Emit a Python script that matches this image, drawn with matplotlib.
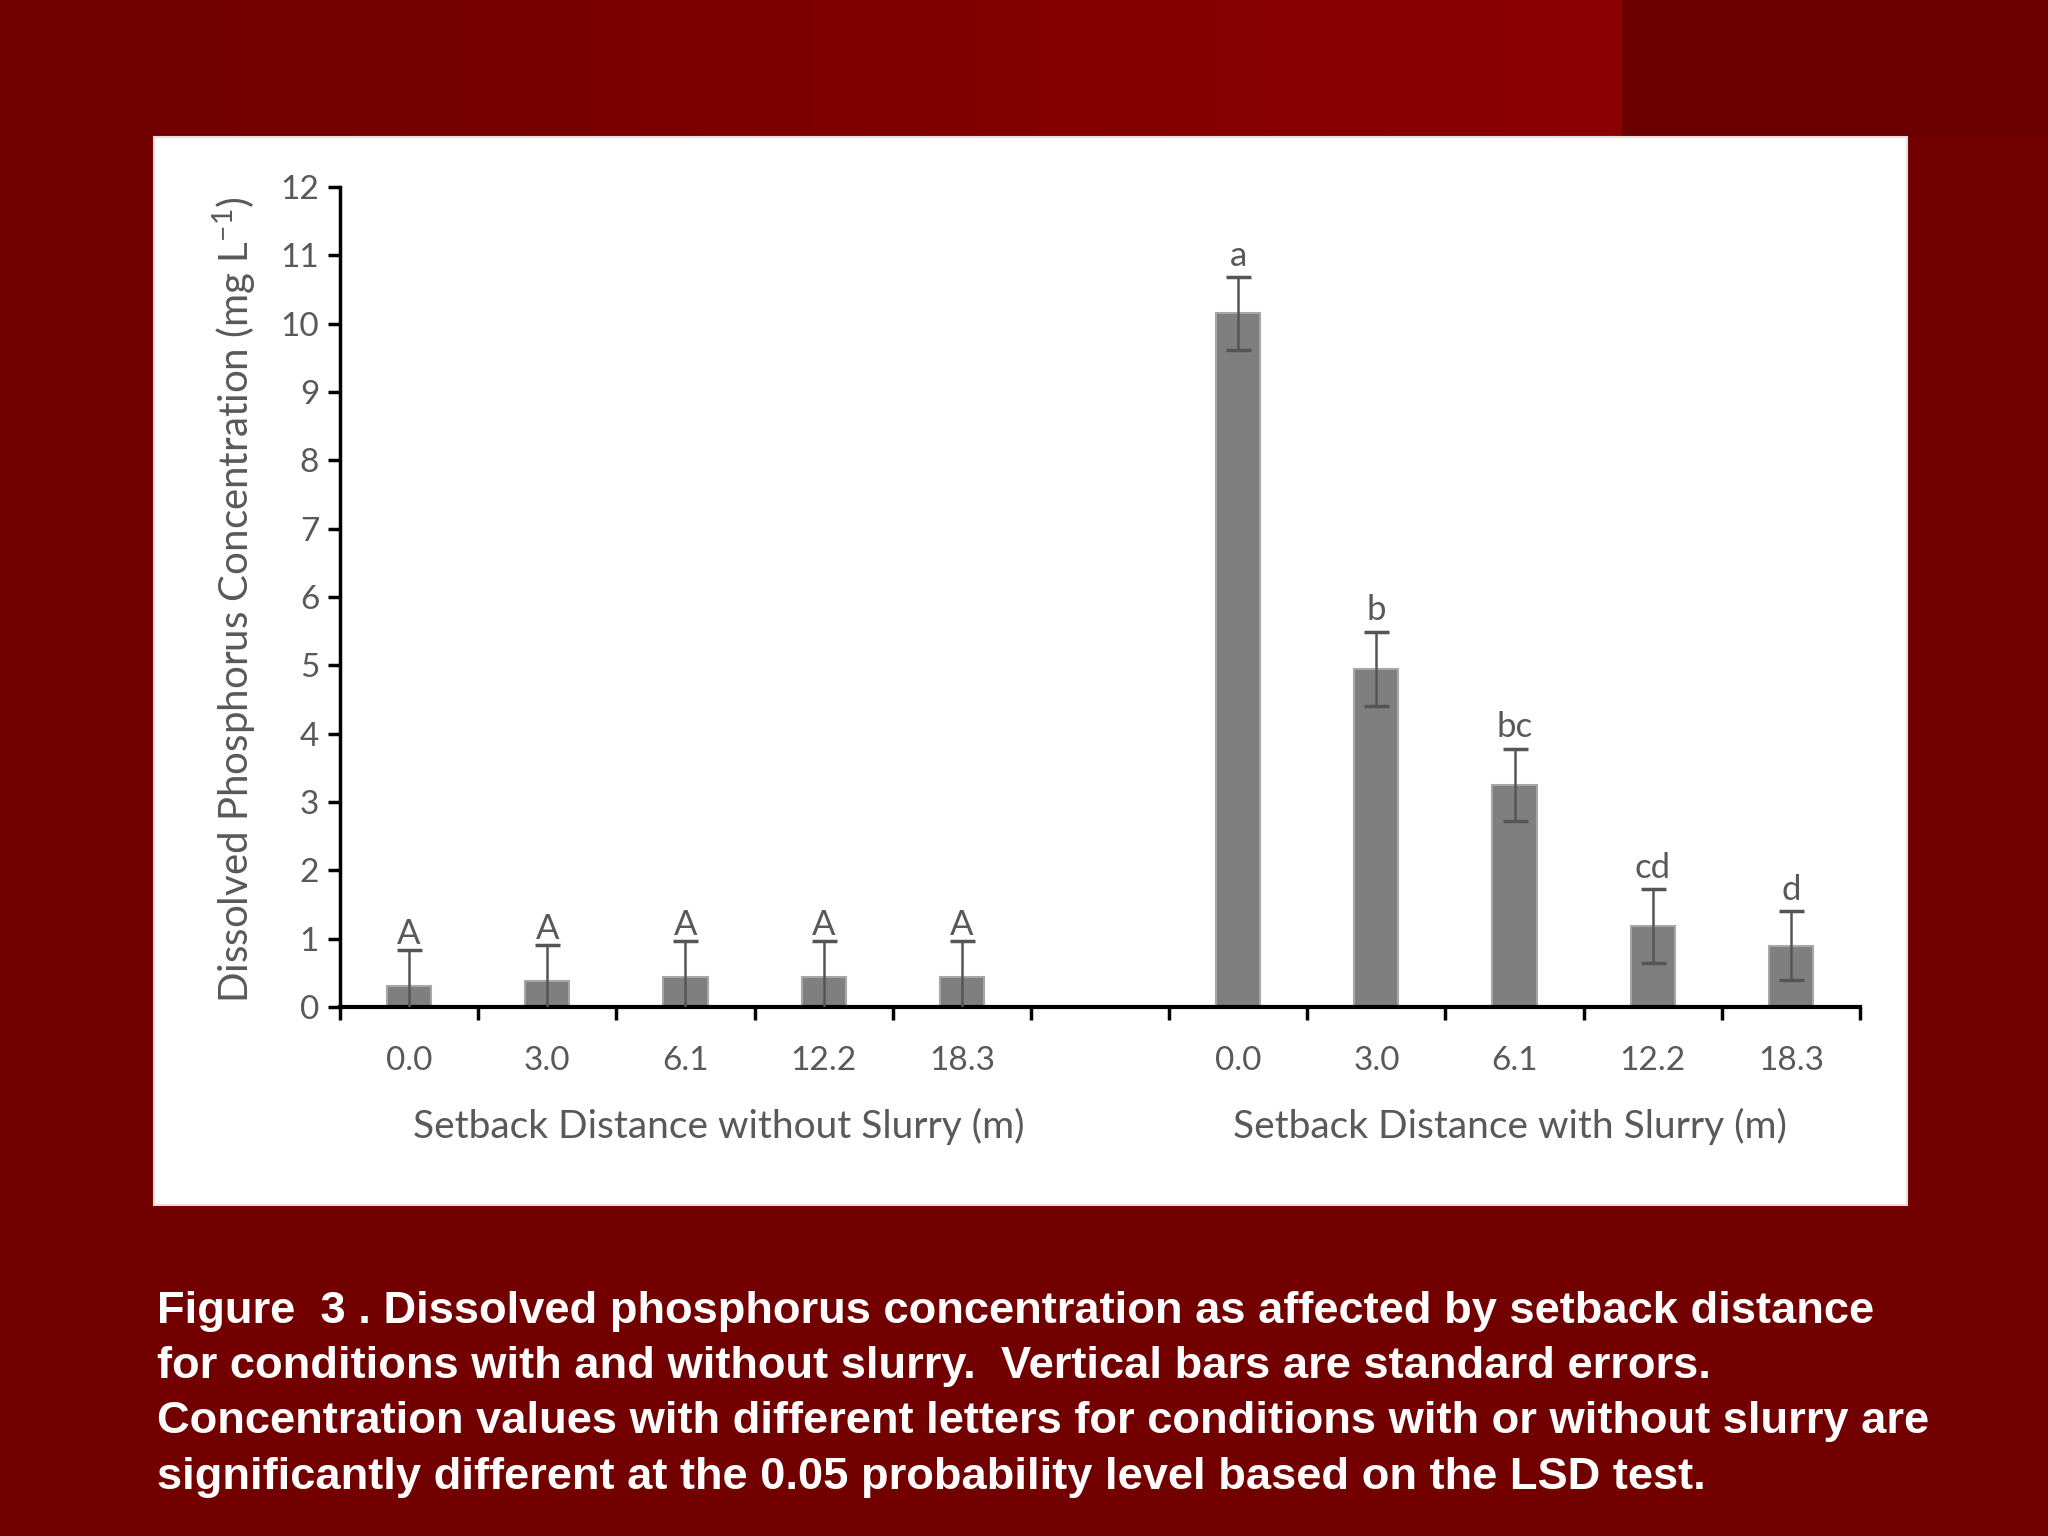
import numpy as np
import matplotlib
matplotlib.use("Agg")
from matplotlib import pyplot as plt
from matplotlib.patches import Rectangle
import matplotlib.transforms as mtransforms

# data
distances = ["0.0", "3.0", "6.1", "12.2", "18.3"]
no_slurry = [0.31, 0.38, 0.44, 0.44, 0.44]
no_slurry_err = [0.52, 0.53, 0.53, 0.53, 0.53]
no_slurry_letters = ["A", "A", "A", "A", "A"]
slurry = [10.15, 4.95, 3.25, 1.18, 0.90]
slurry_err = [0.53, 0.54, 0.53, 0.54, 0.50]
slurry_letters = ["a", "b", "bc", "cd", "d"]
group_labels = ["Setback Distance without Slurry (m)", "Setback Distance with Slurry (m)"]
y_label = "Dissolved Phosphorus Concentration (mg L$^{\\mathregular{-1}}$)"
caption = ["Figure  3 . Dissolved phosphorus concentration as affected by setback distance",
           "for conditions with and without slurry.  Vertical bars are standard errors.",
           "Concentration values with different letters for conditions with or without slurry are",
           "significantly different at the 0.05 probability level based on the LSD test."]

W, H = 2048, 1536
bg = "#730000"
grey = "#595959"
font = "Lato"

fig = plt.figure(figsize=(W / 100, H / 100), dpi=100, facecolor=bg)

# top gradient band of the slide
band = fig.add_axes([0, 1 - 137 / H, 1622 / W, 137 / H])
band.set_zorder(-2)
grad = np.linspace(0, 1, 256).reshape(1, -1)
cmap = matplotlib.colors.LinearSegmentedColormap.from_list("band", ["#700000", "#8c0000"])
band.imshow(grad, aspect="auto", cmap=cmap)
band.axis("off")
fig.patches.append(Rectangle((1622 / W, 1 - 137 / H), 1 - 1622 / W, 137 / H,
                             transform=fig.transFigure, facecolor="#6c0000", edgecolor="none", zorder=-2))

# white panel holding the chart
fig.patches.append(Rectangle((154 / W, 1 - 1205 / H), 1753 / W, 1068 / H,
                             transform=fig.transFigure, facecolor="white", edgecolor="#e8dcdc",
                             linewidth=1.5, zorder=-1))

ax = fig.add_axes([340 / W, 1 - 1007 / H, 1520 / W, 820 / H])
ax.set_zorder(2)
ax.set_facecolor("none")

n = len(distances)
pos_left = np.arange(n)
pos_right = np.arange(n) + n + 1

ax.bar(pos_left, no_slurry, width=0.32, color="#7f7f7f", edgecolor="#a6a6a6", linewidth=1.5, zorder=2)
ax.bar(pos_right, slurry, width=0.32, color="#7f7f7f", edgecolor="#a6a6a6", linewidth=1.5, zorder=2)
# symmetric errors; the part below zero is clipped by the axis like in the original
ax.errorbar(pos_left, no_slurry, yerr=no_slurry_err, fmt="none",
            ecolor="#555555", elinewidth=1.8, capsize=9, capthick=2.5, zorder=3)
ax.errorbar(pos_right, slurry, yerr=slurry_err, fmt="none",
            ecolor="#555555", elinewidth=1.8, capsize=9, capthick=2.5, zorder=3)

for x, v, e, t in zip(pos_left, no_slurry, no_slurry_err, no_slurry_letters):
    ax.text(x, v + e + 0.0, t, ha="center", va="bottom", fontsize=25, color=grey, family=font, zorder=4)
for x, v, e, t in zip(pos_right, slurry, slurry_err, slurry_letters):
    ax.text(x, v + e + 0.08, t, ha="center", va="bottom", fontsize=25, color=grey, family=font, zorder=4)

ax.set_xlim(-0.5, 2 * n + 0.5)
ax.set_ylim(0, 12)
ax.set_yticks(range(0, 13))
ax.set_yticklabels([str(i) for i in range(0, 13)], family=font, fontsize=24, color=grey)

# slot boundaries get the tick marks, bar centers get the labels
ax.set_xticks(np.arange(-0.5, 2 * n + 1, 1.0), minor=True)
ax.set_xticks(list(pos_left) + list(pos_right))
ax.set_xticklabels(distances + distances, family=font, fontsize=24, color=grey)
ax.tick_params(axis="x", which="major", length=0, pad=28)
ax.tick_params(axis="x", which="minor", length=9, width=2.5, direction="out", color="black")
ax.tick_params(axis="y", length=9, width=2.5, direction="out", color="black", pad=6)

for s in ["top", "right"]:
    ax.spines[s].set_visible(False)
ax.spines["left"].set_linewidth(2.5)
ax.spines["bottom"].set_linewidth(3)

trans = mtransforms.blended_transform_factory(ax.transData, fig.transFigure)
ax.text(pos_left[2] + 0.24, 1 - 1126 / H, group_labels[0], transform=trans, ha="center", va="center",
        fontsize=28, color=grey, family=font)
ax.text(pos_right[2] - 0.03, 1 - 1126 / H, group_labels[1], transform=trans, ha="center", va="center",
        fontsize=28, color=grey, family=font)

fig.text(235 / W, 1 - 600 / H, y_label, rotation=90, ha="center", va="center",
         fontsize=29, color=grey, family=font)

for i, line in enumerate(caption):
    fig.text(157 / W, 1 - (1311 + i * 55.5) / H, line, ha="left", va="center", color="white",
             fontsize=32.6, fontweight="bold", family="Liberation Sans")

fig.savefig("out.png", dpi=100, facecolor=bg)
